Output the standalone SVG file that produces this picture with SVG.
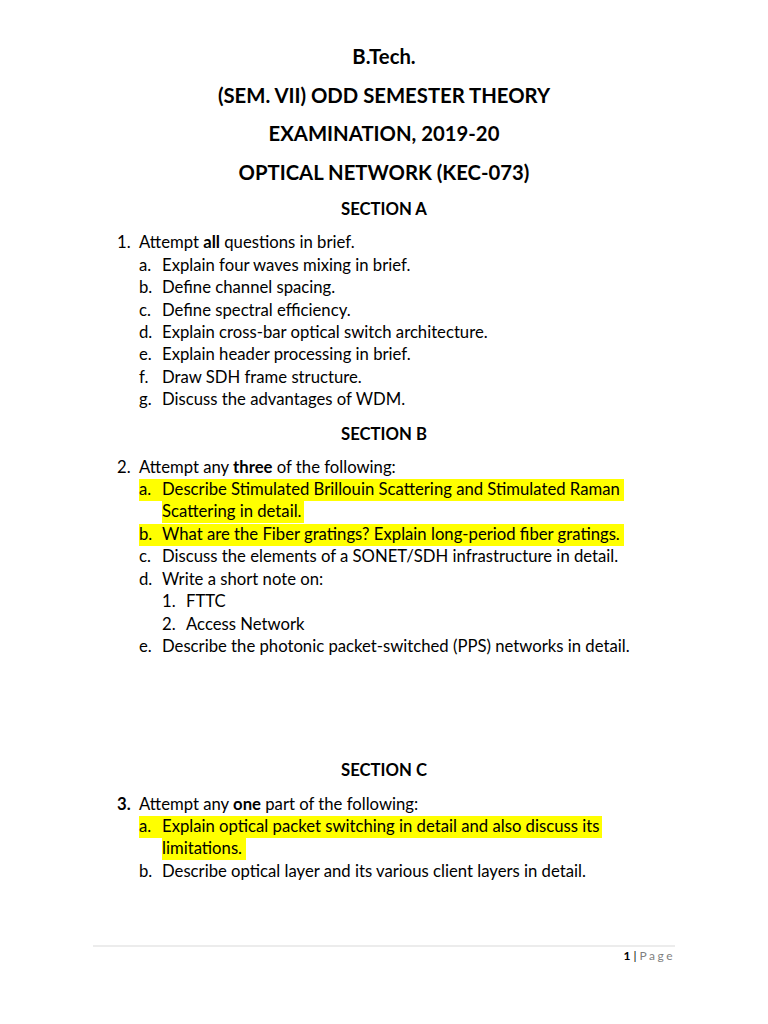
<svg xmlns="http://www.w3.org/2000/svg" width="768" height="1024" viewBox="0 0 768 1024">
<style>
text{font-family:Lato,"Open Sans",sans-serif;fill:#000}
.t{font-size:20.3px;font-weight:bold;text-anchor:middle}
.s{font-size:16.7px;font-weight:bold;text-anchor:middle}
.b{font-size:16.7px}
.hl{fill:#ffff00}
</style>
<rect width="768" height="1024" fill="#fff"/>
<rect class="hl" x="139" y="479" width="485" height="22"/>
<rect class="hl" x="162" y="501" width="142" height="22"/>
<rect class="hl" x="139" y="524" width="485" height="22"/>
<rect class="hl" x="139" y="816" width="463" height="22"/>
<rect class="hl" x="162" y="838" width="84" height="22"/>
<text class="t" x="384" y="64">B.Tech.</text>
<text class="t" x="384" y="103">(SEM. VII) ODD SEMESTER THEORY</text>
<text class="t" x="384" y="141">EXAMINATION, 2019-20</text>
<text class="t" x="384" y="180">OPTICAL NETWORK (KEC-073)</text>
<text class="s" x="384" y="215">SECTION A</text>
<g id="secA">
<text class="b" x="117" y="248">1.</text><text class="b" x="139" y="248">Attempt <tspan font-weight="bold">all</tspan> questions in brief.</text>
<text class="b" x="139" y="271">a.</text><text class="b" x="162" y="271">Explain four waves mixing in brief.</text>
<text class="b" x="139" y="293">b.</text><text class="b" x="162" y="293">Define channel spacing.</text>
<text class="b" x="139" y="316">c.</text><text class="b" x="162" y="316">Define spectral efficiency.</text>
<text class="b" x="139" y="338">d.</text><text class="b" x="162" y="338">Explain cross-bar optical switch architecture.</text>
<text class="b" x="139" y="360">e.</text><text class="b" x="162" y="360">Explain header processing in brief.</text>
<text class="b" x="139" y="383">f.</text><text class="b" x="162" y="383">Draw SDH frame structure.</text>
<text class="b" x="139" y="405">g.</text><text class="b" x="162" y="405">Discuss the advantages of WDM.</text>
</g>
<text class="s" x="384" y="440">SECTION B</text>
<g id="secB">
<text class="b" x="117" y="473">2.</text><text class="b" x="139" y="473">Attempt any <tspan font-weight="bold">three</tspan> of the following:</text>
<text class="b" x="139" y="495">a.</text><text class="b" x="162" y="495">Describe Stimulated Brillouin Scattering and Stimulated Raman</text>
<text class="b" x="162" y="517">Scattering in detail.</text>
<text class="b" x="139" y="540">b.</text><text class="b" x="162" y="540">What are the Fiber gratings? Explain long-period fiber gratings.</text>
<text class="b" x="139" y="562">c.</text><text class="b" x="162" y="562">Discuss the elements of a SONET/SDH infrastructure in detail.</text>
<text class="b" x="139" y="585">d.</text><text class="b" x="162" y="585">Write a short note on:</text>
<text class="b" x="162" y="607">1.</text><text class="b" x="186" y="607">FTTC</text>
<text class="b" x="162" y="630">2.</text><text class="b" x="186" y="630">Access Network</text>
<text class="b" x="139" y="652">e.</text><text class="b" x="162" y="652">Describe the photonic packet-switched (PPS) networks in detail.</text>
</g>
<text class="s" x="384" y="776">SECTION C</text>
<g id="secC">
<text class="b" x="117" y="810" font-weight="bold">3.</text><text class="b" x="139" y="810">Attempt any <tspan font-weight="bold">one</tspan> part of the following:</text>
<text class="b" x="139" y="832">a.</text><text class="b" x="162" y="832">Explain optical packet switching in detail and also discuss its</text>
<text class="b" x="162" y="854">limitations.</text>
<text class="b" x="139" y="877">b.</text><text class="b" x="162" y="877">Describe optical layer and its various client layers in detail.</text>
</g>
<line x1="93" y1="946" x2="675" y2="946" stroke="#d9d9d9" stroke-width="1"/>
<text x="675" y="960" font-size="12" text-anchor="end"><tspan font-weight="bold">1</tspan> | <tspan fill="#7f7f7f" letter-spacing="2.5">Page</tspan></text>
</svg>
